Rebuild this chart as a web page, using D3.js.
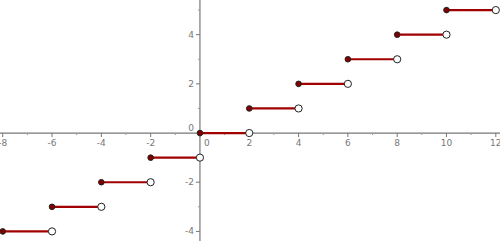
<!DOCTYPE html>
<html lang="en">
  <head>
    <style>
      body { margin: 0; background: #fff; }
      text { font-family: "DejaVu Sans", sans-serif; font-size: 9px; fill: #777; }
    </style>
    <script src="https://d3js.org/d3.v7.min.js"></script>
  </head>
  <body>
    <svg width="500" height="241"></svg>
    <script>
      // step function y = floor(x / 2)
      const starts = [-8, -6, -4, -2, 0, 2, 4, 6, 8, 10];
      const values = [-4, -3, -2, -1, 0, 1, 2, 3, 4, 5];
      const xTicks = [-8, -6, -4, -2, 0, 2, 4, 6, 8, 10, 12];
      const yTicks = [-4, -2, 0, 2, 4];
      const xMinor = [-7, -5, -3, -1, 1, 3, 5, 7, 9, 11];
      const yMinor = [-3, -1, 1, 3, 5];

      const svg = d3.select("svg"),
        width = 500,
        height = 241;

      const x = d3.scaleLinear().domain([-8.11, 12.17]).range([0, width]);
      const y = d3.scaleLinear().domain([-4.39, 5.41]).range([height, 0]);

      const axisColor = "#777";

      // x axis
      const gx = svg.append("g").attr("transform", "translate(0," + y(0) + ")");
      gx.append("line")
        .attr("x1", 0).attr("x2", width)
        .attr("stroke", axisColor).attr("stroke-width", 1.2);
      gx.selectAll(".tick")
        .data(xTicks)
        .enter()
        .append("line")
        .attr("x1", d => x(d)).attr("x2", d => x(d))
        .attr("y1", 0).attr("y2", 4)
        .attr("stroke", axisColor);
      gx.selectAll(".minor")
        .data(xMinor)
        .enter()
        .append("line")
        .attr("x1", d => x(d)).attr("x2", d => x(d))
        .attr("y1", 0).attr("y2", 2)
        .attr("stroke", "#999");
      gx.selectAll("text")
        .data(xTicks)
        .enter()
        .append("text")
        .attr("x", d => x(d) + (d === 0 ? 7 : 0))
        .attr("y", 13)
        .attr("text-anchor", "middle")
        .text(d => d);

      // y axis
      const gy = svg.append("g").attr("transform", "translate(" + x(0) + ",0)");
      gy.append("line")
        .attr("y1", 0).attr("y2", height)
        .attr("stroke", axisColor).attr("stroke-width", 1.2);
      gy.selectAll(".tick")
        .data(yTicks.filter(d => d !== 0))
        .enter()
        .append("line")
        .attr("y1", d => y(d)).attr("y2", d => y(d))
        .attr("x1", -4).attr("x2", 0)
        .attr("stroke", axisColor);
      gy.selectAll(".minor")
        .data(yMinor)
        .enter()
        .append("line")
        .attr("y1", d => y(d)).attr("y2", d => y(d))
        .attr("x1", -2).attr("x2", 0)
        .attr("stroke", "#999");
      gy.selectAll("text")
        .data(yTicks)
        .enter()
        .append("text")
        .attr("x", -6)
        .attr("y", d => y(d) + (d === 0 ? -2 : 3))
        .attr("text-anchor", "end")
        .text(d => d);

      // segments
      const steps = starts.map((s, i) => ({ s: s, e: s + 2, v: values[i] }));

      svg.selectAll(".seg")
        .data(steps)
        .enter()
        .append("line")
        .attr("x1", d => x(d.s)).attr("x2", d => x(d.e))
        .attr("y1", d => y(d.v)).attr("y2", d => y(d.v))
        .attr("stroke", "#a00000")
        .attr("stroke-width", 2.2);

      svg.selectAll(".closed")
        .data(steps)
        .enter()
        .append("circle")
        .attr("cx", d => x(d.s))
        .attr("cy", d => y(d.v))
        .attr("r", 2.8)
        .attr("fill", "#800000")
        .attr("stroke", "#222")
        .attr("stroke-width", 1);

      svg.selectAll(".open")
        .data(steps)
        .enter()
        .append("circle")
        .attr("cx", d => x(d.e))
        .attr("cy", d => y(d.v))
        .attr("r", 3.6)
        .attr("fill", "#fff")
        .attr("stroke", "#222")
        .attr("stroke-width", 1);
    </script>
  </body>
</html>
